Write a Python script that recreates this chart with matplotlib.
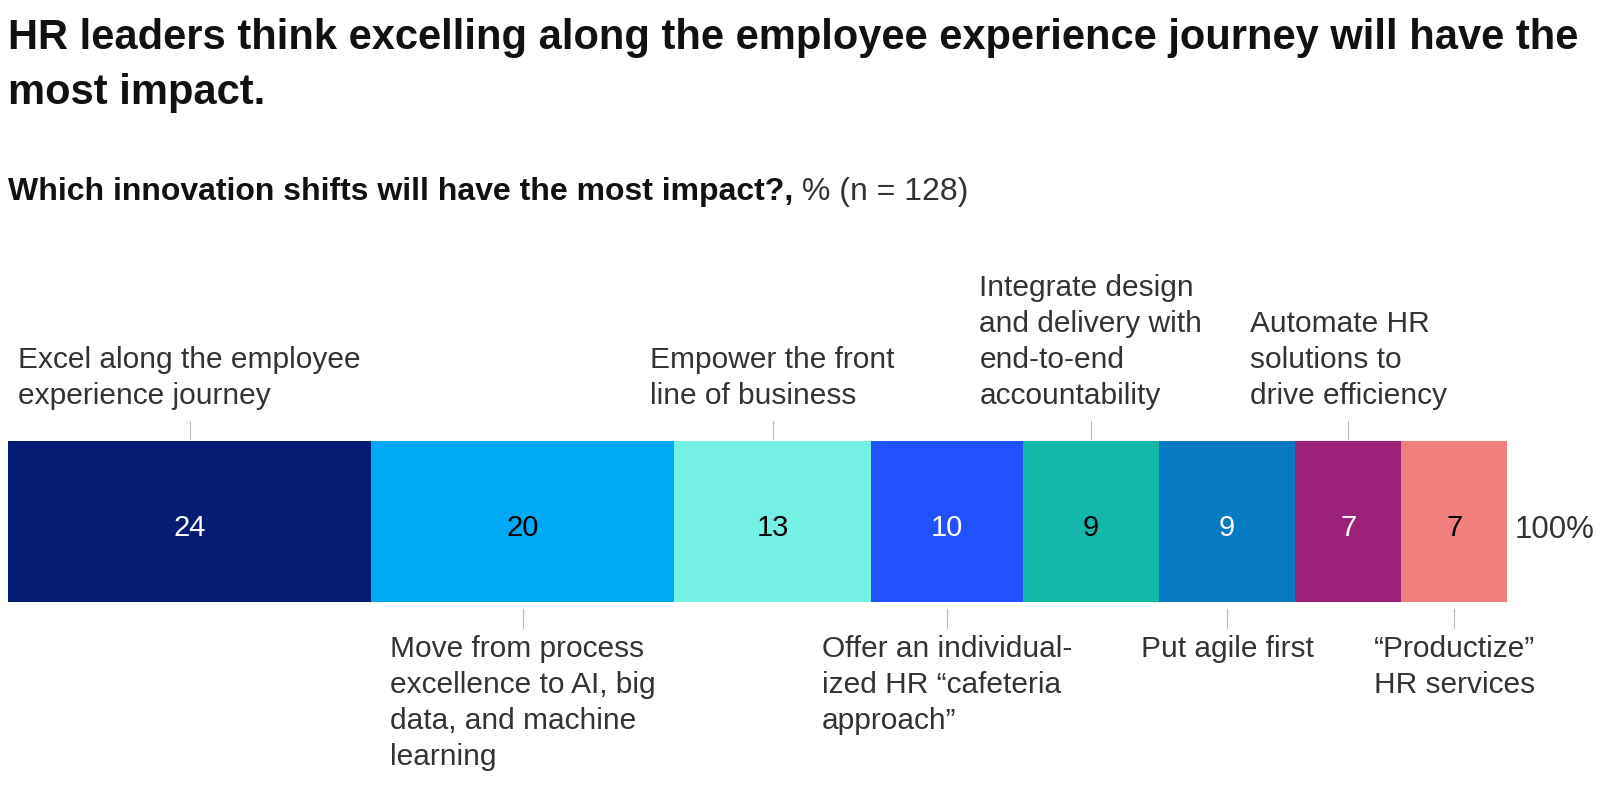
import matplotlib
matplotlib.use("Agg")
from matplotlib import pyplot as plt
from matplotlib import transforms
import numpy as np

plt.rcParams['font.family'] = ['Liberation Sans', 'DejaVu Sans']

# data
categories = ["Excel along the employee\nexperience journey",
              "Move from process\nexcellence to AI, big\ndata, and machine\nlearning",
              "Empower the front\nline of business",
              "Offer an individual-\nized HR \u201ccafeteria\napproach\u201d",
              "Integrate design\nand delivery with\nend-to-end\naccountability",
              "Put agile first",
              "Automate HR\nsolutions to\ndrive efficiency",
              "\u201cProductize\u201d\nHR services"]
values = [24, 20, 13, 10, 9, 9, 7, 7]
colors = ["#051C75", "#00A9F4", "#74F0E4", "#2251FF",
          "#14B8AB", "#0679C3", "#9B2179", "#F07F7E"]
num_colors = ["white", "black", "black", "white", "black", "white", "white", "black"]
label_side = ["top", "bottom", "top", "bottom", "top", "bottom", "top", "bottom"]

title = "HR leaders think excelling along the employee experience journey will have the\nmost impact."
subtitle_bold = "Which innovation shifts will have the most impact?,"
subtitle_rest = " % (n = 128)"

fig = plt.figure(figsize=(16, 8), dpi=100)
ax = fig.add_axes([0.005, 0.2474, 0.937, 0.2016])

lefts = np.concatenate([[0], np.cumsum(values)[:-1]])
ax.barh(0.5, values, left=lefts, height=1.0, color=colors, edgecolor="none")
ax.set_xlim(0, sum(values))
ax.set_ylim(0, 1)
ax.axis("off")

# blended: x in data, y in axes
trans = transforms.blended_transform_factory(ax.transData, ax.transAxes)

for i, (lab, v, l) in enumerate(zip(categories, values, lefts)):
    cx = l + v / 2
    ax.text(cx, 0.46, str(v), ha="center", va="center", fontsize=21,
            color=num_colors[i])
    if label_side[i] == "top":
        ax.plot([cx, cx], [1.012, 1.12], color="#bbbbbb", lw=0.8,
                transform=trans, clip_on=False)
        ax.text(cx, 1.19, lab, ha="center", va="bottom", multialignment="left",
                fontsize=21.5, color="#333333", linespacing=1.36,
                transform=trans)
    else:
        ax.plot([cx, cx], [-0.044, -0.158], color="#bbbbbb", lw=0.8,
                transform=trans, clip_on=False)
        ax.text(cx, -0.205, lab, ha="center", va="top", multialignment="left",
                fontsize=21.5, color="#333333", linespacing=1.36,
                transform=trans)

ax.text(1.005, 0.45, "100%", ha="left", va="center", fontsize=22.5,
        color="#333333", transform=ax.transAxes)

# titles
fig.text(0.005, 0.978, title, ha="left", va="top", fontsize=30,
         fontweight="bold", color="#111111", linespacing=1.5)
t1 = fig.text(0.005, 0.760, subtitle_bold, ha="left", va="center",
              fontsize=23, fontweight="bold", color="#111111")
renderer = fig.canvas.get_renderer()
bb = t1.get_window_extent(renderer=renderer)
x_end = fig.transFigure.inverted().transform((bb.x1, bb.y0))[0]
fig.text(x_end, 0.760, subtitle_rest, ha="left", va="center",
         fontsize=23, color="#333333")

fig.savefig("out.png", dpi=100)
